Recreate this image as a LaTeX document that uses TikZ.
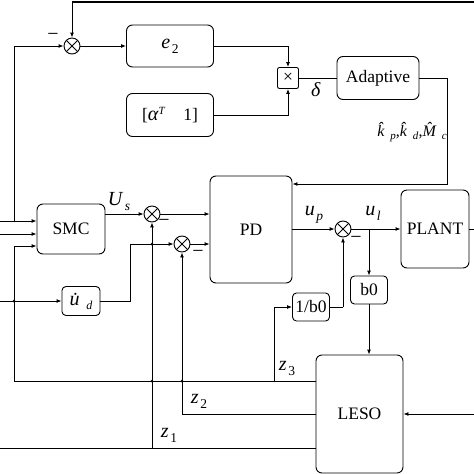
\documentclass[tikz,border=0pt]{standalone}
\usepackage{fontspec}
\setmainfont{Liberation Serif}
\usetikzlibrary{arrows.meta,calc}
\newcommand\vsub[2]{\textit{#1}\kern1.5pt\raisebox{-5pt}{\fontsize{13.5}{14}\selectfont #2}}
\newcommand\hsub[2]{\textit{#1}\raisebox{-3.5pt}{\fontsize{11}{11}\selectfont #2}}
\begin{document}
\begin{tikzpicture}[x=1pt,y=-1pt,line width=0.9pt,
  >={Latex[length=5pt,width=4pt]},
  txt/.style={font=\fontsize{17.5}{20}\selectfont},
  mtxt/.style={font=\fontsize{20}{22}\selectfont},
  blk/.style={draw,rounded corners=6pt,inner sep=0pt,txt},
  smallblk/.style={draw,rounded corners=4pt,inner sep=0pt,txt},
  sumc/.style={draw,circle,minimum size=16pt,inner sep=0pt,
    path picture={\draw[line width=0.9pt] (path picture bounding box.north west) -- (path picture bounding box.south east)
      (path picture bounding box.south west) -- (path picture bounding box.north east);}},
  dot/.style={circle,fill,inner sep=0pt,minimum size=3pt},
  lbl/.style={mtxt,inner sep=0pt}]
\useasboundingbox (0,0) rectangle (474,474);
% blocks
\node[blk,mtxt,minimum width=87pt,minimum height=42pt] (e2) at (170,46) {\vsub{e}{2}};
\node[blk,minimum width=87pt,minimum height=43pt] (alpha) at (170,115) {[{\fontsize{20}{22}\selectfont\textit{α}}\raisebox{6pt}{\fontsize{11}{11}\selectfont\textit{T}}\hspace{18pt}1]};
\node[draw,rounded corners=2pt,minimum width=21pt,minimum height=21pt,inner sep=0pt,txt] (mult) at (288,78) {×};
\node[blk,minimum width=82pt,minimum height=43pt] (adapt) at (378,78) {Adaptive};
\node[blk,minimum width=82pt,minimum height=107pt] (PD) at (251,229.5) {PD};
\node[blk,minimum width=68pt,minimum height=50pt] (SMC) at (71,229) {SMC};
\node[smallblk,mtxt,minimum width=38pt,minimum height=29pt] (ud) at (81,301) {\textit{u^^^^0307}\kern1pt\raisebox{-4pt}{\fontsize{12}{12}\selectfont\textit{d}}};
\node[blk,minimum width=68pt,minimum height=78pt] (plant) at (435,229) {PLANT};
\node[smallblk,minimum width=37pt,minimum height=28pt] (b0) at (369,290) {b0};
\node[smallblk,minimum width=37pt,minimum height=28pt] (ib0) at (311,307) {1/b0};
\node[blk,minimum width=87pt,minimum height=118pt] (leso) at (359.5,414) {LESO};
% sums
\node[sumc] (s1) at (72,46) {};
\node[sumc] (s2) at (152,214) {};
\node[sumc] (s3) at (182,244) {};
\node[sumc] (s4) at (343,229) {};
% coordinates
\coordinate (topR) at (474,1.5);
\coordinate (inA) at (0,221);
\coordinate (jA) at (14,221);
\coordinate (inB) at (0,234);
\coordinate (jC) at (14,246);
\coordinate (z3L) at (14,381);
\coordinate (inD) at (0,301);
\coordinate (jD) at (14,301);
\coordinate (udk1) at (130,301);
\coordinate (udk2) at (130,244);
\coordinate (z1L) at (0,448);
\coordinate (z1v) at (152,448);
\coordinate (z2v) at (182,414);
\coordinate (z3v) at (274,381);
\coordinate (ibk) at (274,307);
\coordinate (ibo) at (343,307);
\coordinate (jul) at (369,229);
\coordinate (plR) at (474,229);
\coordinate (lesoR) at (474,414);
\coordinate (adk1) at (447,78);
\coordinate (adk2) at (447,184);
\coordinate (e2k) at (288,46);
\coordinate (alk) at (288,115);
% top feedback
\draw[line width=2pt] (topR) -- (topR -| s1);
\draw[->] (topR -| s1) -- (s1.north);
\draw[->] (jA) -- (jA |- s1) -- (s1.west);
\draw[->] (s1.east) -- (e2.west);
\draw[->] (e2.east) -- (e2k) -- (mult.north);
\draw[->] (alpha.east) -- (alk) -- (mult.south);
\draw (mult.east) -- (adapt.west);
\draw[->] (adapt.east) -- (adk1) -- (adk2) -- (adk2 -| PD.east);
% left inputs
\draw[->] (inA) -- (inA -| SMC.west);
\draw[->] (inB) -- (inB -| SMC.west);
\draw[->] (z3L) -- (jC) -- (jC -| SMC.west);
\draw (leso.west |- z3L) -- (z3L);
\draw[->] (inD) -- (ud.west);
\draw (ud.east) -- (udk1) -- (udk2);
\draw[->] (udk2) -- (s3.west);
\draw[->] (SMC.east |- s2) -- (s2.west);
\draw[->] (s2.east) -- (s2 -| PD.west);
\draw[->] (s3.east) -- (s3 -| PD.west);
\draw (z1L) -- (z1L -| leso.west);
\draw[->] (z1v) -- (s2.south);
\draw (leso.west |- z2v) -- (z2v);
\draw[->] (z2v) -- (s3.south);
% right part
\draw[->] (PD.east |- s4) -- (s4.west);
\draw[->] (s4.east) -- (s4 -| plant.west);
\draw[->] (jul) -- (b0.north);
\draw[->] (b0.south) -- (b0.south |- leso.north);
\draw (z3v) -- (ibk);
\draw[->] (ibk) -- (ib0.west);
\draw (ib0.east |- ibo) -- (ibo);
\draw[->] (ibo) -- (s4.south);
\draw (plant.east |- plR) -- (plR);
\draw[->] (lesoR) -- (lesoR -| leso.east);
% dots
\node[dot] at (jD) {};
\node[dot] at (152,244) {};
\node[dot] at (152,381) {};
\node[dot] at (182,381) {};
% labels
\node[lbl] at (53,37) {−};
\node[lbl] at (164,223) {−};
\node[lbl] at (198,254) {−};
\node[lbl] at (356,240) {−};
\node[lbl] at (119,202) {\vsub{U}{\textit{s}}};
\node[lbl] at (314,215) {\vsub{u}{\textit{p}}};
\node[lbl] at (373,213) {\vsub{u}{\textit{l}}};
\node[lbl] at (316,90) {\textit{δ}};
\node[lbl,font=\fontsize{16}{18}\selectfont] at (412,132) {\hsub{k^^^^0302}{\textit{p}},\hsub{k^^^^0302}{\textit{d}},\hsub{M^^^^0302}{\textit{c}}};
\node[lbl] at (287,368) {\vsub{z}{3}};
\node[lbl] at (199,401) {\vsub{z}{2}};
\node[lbl] at (169,435) {\vsub{z}{1}};
\end{tikzpicture}
\end{document}
